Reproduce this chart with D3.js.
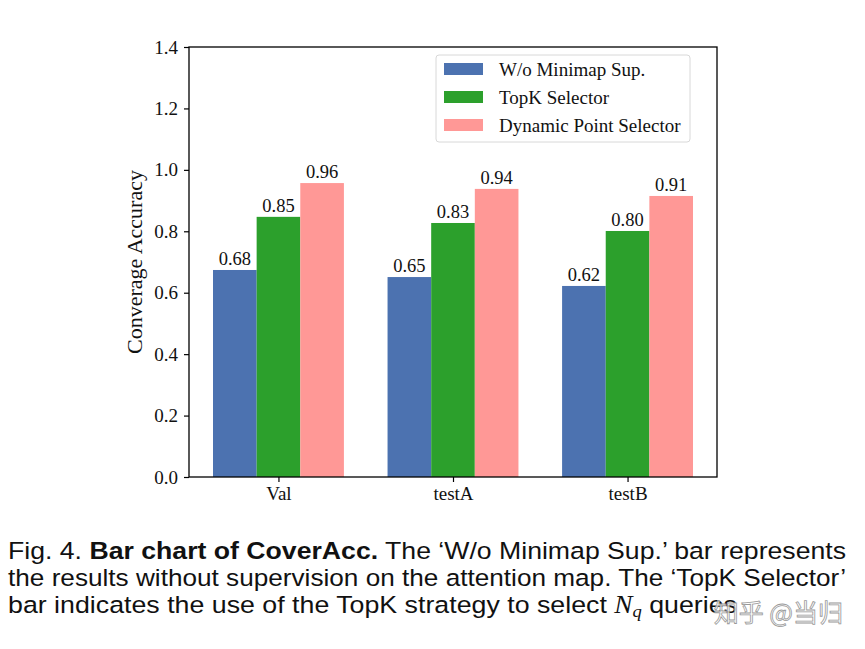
<!DOCTYPE html>
<html>
<head>
<meta charset="utf-8">
<script src="https://cdn.jsdelivr.net/npm/d3@7"></script>
<style>
  body { margin: 0; background: #fff; }
</style>
</head>
<body>
<svg id="chart" width="865" height="649"></svg>
<script>
const categories = ["Val", "testA", "testB"],
  seriesNames = ["W/o Minimap Sup.", "TopK Selector", "Dynamic Point Selector"],
  seriesColors = ["#4c72b0", "#2ca02c", "#ff9896"],
  woMinimap = [0.674, 0.651, 0.622],
  topK = [0.847, 0.827, 0.801],
  dynamicPoint = [0.957, 0.938, 0.915],
  woMinimapLabels = ["0.68", "0.65", "0.62"],
  topKLabels = ["0.85", "0.83", "0.80"],
  dynamicPointLabels = ["0.96", "0.94", "0.91"],
  yTicks = [0.0, 0.2, 0.4, 0.6, 0.8, 1.0, 1.2, 1.4];

const series = [woMinimap, topK, dynamicPoint],
  seriesLabels = [woMinimapLabels, topKLabels, dynamicPointLabels];

const plotLeft = 189,
  plotRight = 717,
  plotTop = 47,
  plotBottom = 477,
  barW = 0.25,
  serif = "Liberation Serif",
  sans = "Liberation Sans";

const svg = d3.select("#chart");

var x = d3.scaleLinear()
  .domain([-0.5125, 2.5125])
  .range([plotLeft, plotRight]);

var y = d3.scaleLinear()
  .domain([0, 1.4])
  .range([plotBottom, plotTop]);

// bars + value labels
series.forEach(function(vals, s) {
  var g = svg.append("g").attr("class", "series" + s);
  g.selectAll("rect")
    .data(vals)
    .enter()
    .append("rect")
    .attr("x", (d, i) => x(i + (s - 1) * barW - barW / 2))
    .attr("width", x(barW) - x(0))
    .attr("y", d => y(d))
    .attr("height", d => y(0) - y(d))
    .attr("fill", seriesColors[s]);

  g.selectAll("text")
    .data(vals)
    .enter()
    .append("text")
    .attr("x", (d, i) => x(i + (s - 1) * barW))
    .attr("y", d => y(d) - 5)
    .attr("text-anchor", "middle")
    .attr("font-family", serif)
    .attr("font-size", 18.5)
    .attr("fill", "#111")
    .text((d, i) => seriesLabels[s][i]);
});

// axes
var yAxis = svg.append("g")
  .attr("transform", `translate(${plotLeft},0)`)
  .call(d3.axisLeft(y).tickValues(yTicks).tickFormat(d3.format(".1f")).tickSize(5).tickPadding(6));

var xAxis = svg.append("g")
  .attr("transform", `translate(0,${plotBottom})`)
  .call(d3.axisBottom(x).tickValues([0, 1, 2]).tickFormat(i => categories[i]).tickSize(5).tickPadding(5));

[yAxis, xAxis].forEach(function(ax) {
  ax.attr("font-family", serif).attr("font-size", 19);
  ax.select(".domain").remove();
  ax.selectAll("line").attr("stroke", "#000").attr("stroke-width", 1.2);
  ax.selectAll("text").attr("fill", "#111");
});

svg.append("rect")
  .attr("x", plotLeft).attr("y", plotTop)
  .attr("width", plotRight - plotLeft).attr("height", plotBottom - plotTop)
  .attr("fill", "none").attr("stroke", "#000").attr("stroke-width", 1.3);

svg.append("text")
  .attr("transform", `translate(142,${(plotTop + plotBottom) / 2}) rotate(-90)`)
  .attr("text-anchor", "middle")
  .attr("font-family", serif)
  .attr("font-size", 22)
  .attr("fill", "#111")
  .text("Converage Accuracy");

// legend
var legend = svg.append("g").attr("transform", "translate(436,55)");
legend.append("rect")
  .attr("width", 254).attr("height", 87).attr("rx", 3)
  .attr("fill", "#fff").attr("stroke", "#d8d8d8").attr("stroke-width", 1);

var items = legend.selectAll(".item")
  .data(seriesNames)
  .enter()
  .append("g")
  .attr("class", "item")
  .attr("transform", (d, i) => `translate(0,${14 + i * 28})`);

items.append("rect")
  .attr("x", 8).attr("y", -6).attr("width", 39).attr("height", 12)
  .attr("fill", (d, i) => seriesColors[i]);

items.append("text")
  .attr("x", 63).attr("y", 6.5)
  .attr("font-family", serif)
  .attr("font-size", 19)
  .attr("fill", "#111")
  .text(d => d);

// caption
var cap = svg.append("g").attr("font-family", sans).attr("font-size", 24.5).attr("fill", "#111");

var l1 = cap.append("text").attr("x", 8).attr("y", 559).attr("textLength", 838).attr("lengthAdjust", "spacingAndGlyphs");
l1.append("tspan").text("Fig. 4. ");
l1.append("tspan").attr("font-weight", "bold").text("Bar chart of CoverAcc.");
l1.append("tspan").text(" The \u2018W/o Minimap Sup.\u2019 bar represents");

cap.append("text").attr("x", 8).attr("y", 586).attr("textLength", 838).attr("lengthAdjust", "spacingAndGlyphs")
  .text("the results without supervision on the attention map. The \u2018TopK Selector\u2019");

var l3 = cap.append("text").attr("x", 8).attr("y", 613).attr("textLength", 729).attr("lengthAdjust", "spacingAndGlyphs");
l3.append("tspan").text("bar indicates the use of the TopK strategy to select ");
l3.append("tspan").attr("font-family", serif).attr("font-style", "italic").attr("font-size", 25).text("N");
l3.append("tspan").attr("font-family", serif).attr("font-style", "italic").attr("font-size", 17).attr("dy", 4).text("q");
l3.append("tspan").attr("dy", -4).text(" queries");

// watermark
svg.append("text")
  .attr("x", 843).attr("y", 622)
  .attr("text-anchor", "end")
  .attr("font-family", "Noto Sans CJK SC")
  .attr("font-size", 25)
  .attr("fill", "#fff").attr("fill-opacity", 0.8)
  .attr("stroke", "#999").attr("stroke-width", 0.8)
  .text("知乎 @当归");
</script>
</body>
</html>
